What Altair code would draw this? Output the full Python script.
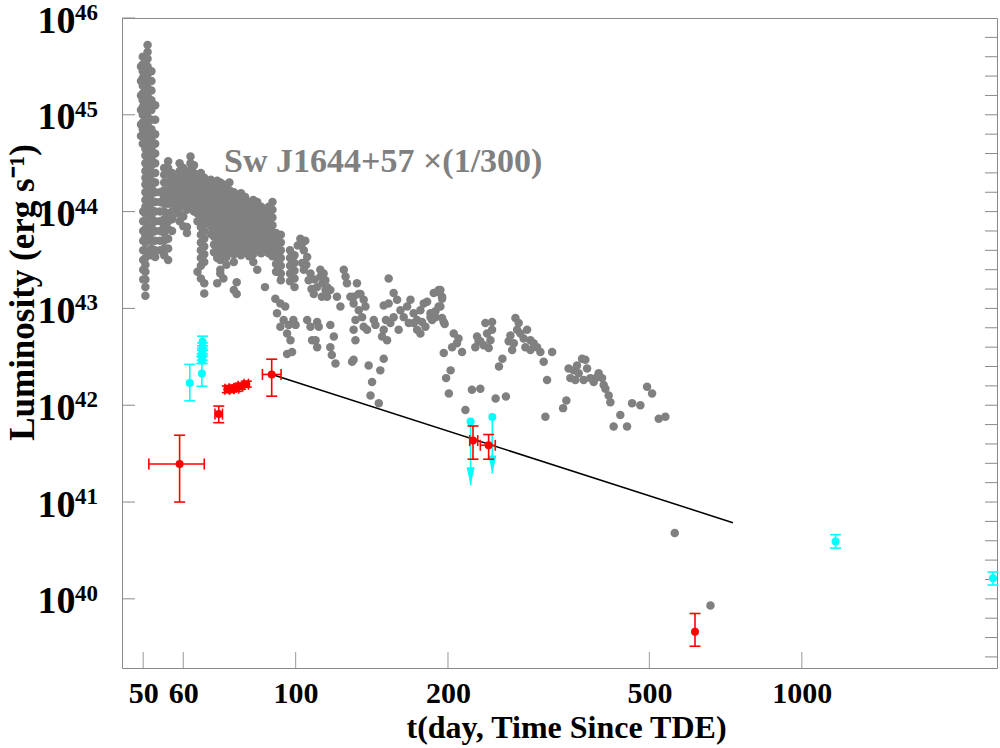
import altair as alt
import pandas as pd

# ---------------------------------------------------------------------------
# Sw J1644+57 X-ray light curve, already scaled by 1/300.
# Each entry: (day since TDE, [log10 L of the observations on that day])
# ---------------------------------------------------------------------------
onset_columns = [
    (49.5, [45.50, 45.35, 45.20, 45.05, 44.90, 44.78]),
    (49.9, [45.60, 45.52, 45.45, 45.38, 45.30, 45.22, 45.15, 45.08, 45.00, 44.92, 44.85, 44.78, 44.70]),
    (50.0, [44.00, 43.90, 43.80, 43.70, 43.60, 43.50, 43.40, 43.30]),
    (50.5, [45.55, 45.48, 45.40, 45.33, 45.25, 45.18, 45.10, 45.03, 44.96, 44.88, 44.80, 44.72,
            44.65, 44.58, 44.50, 44.42, 44.35, 44.28, 44.20, 44.12, 44.05, 43.98, 43.90, 43.82,
            43.75, 43.68, 43.60, 43.52, 43.45, 43.38, 43.30, 43.22, 43.13]),
    (51.0, [45.72, 45.65, 45.58, 45.50, 45.42, 45.35, 45.28, 45.20, 45.12, 45.05, 44.98, 44.90,
            44.82, 44.75, 44.68, 44.60, 44.52, 44.45, 44.38, 44.30, 44.22, 44.15]),
    (51.9, [45.45, 45.35, 45.25, 45.15, 45.05, 44.95, 44.85, 44.75, 44.65, 44.55, 44.48, 44.40,
            44.32, 44.25, 44.18, 44.10, 44.02, 43.94, 43.86, 43.78, 43.70, 43.62, 43.55]),
    (52.8, [45.10, 44.95, 44.80, 44.70, 44.60, 44.50, 44.40, 44.30, 44.20, 44.10, 44.00, 43.90,
            43.80, 43.70, 43.60, 43.53]),
]

plateau_columns = [
    (54.0, [44.20, 44.10, 44.00, 43.90, 43.80, 43.70, 43.60]),
    (55.0, [44.45, 44.38, 44.30, 44.22, 44.15, 44.08, 44.00, 43.92, 43.85, 43.78, 43.70, 43.62, 43.55]),
    (56.0, [44.52, 44.45, 44.38, 44.30, 44.22, 44.15, 44.08, 43.98, 43.90, 43.82, 43.72, 43.62, 43.50]),
    (57.0, [44.40, 44.32, 44.24, 44.16, 44.08, 44.00, 43.92, 43.80]),
    (58.0, [44.35, 44.28, 44.20, 44.12, 44.05, 43.98]),
    (59.0, [44.50, 44.42, 44.35, 44.28, 44.20, 44.12, 44.05, 43.98, 43.90]),
    (60.0, [44.45, 44.38, 44.30, 44.22, 44.15, 44.07, 43.95, 43.85]),
    (61.0, [44.40, 44.32, 44.25, 44.18, 44.10, 44.02, 43.84, 43.78]),
    (62.0, [44.57, 44.50, 44.43, 44.36, 44.28, 44.20, 44.12, 44.05]),
    (63.0, [44.48, 44.40, 44.32, 44.24, 44.16, 44.08, 44.00]),
    (64.0, [44.38, 44.30, 44.22, 44.14, 44.06, 43.98, 43.90, 43.38]),
    (65.0, [44.40, 44.32, 44.24, 44.16, 44.08, 44.00, 43.92, 43.84, 43.76, 43.68, 43.60, 43.52, 43.44, 43.31]),
    (66.0, [44.35, 44.27, 44.20, 44.12, 44.04, 43.96, 43.88, 43.80, 43.72, 43.64, 43.56, 43.48, 43.26, 43.155]),
    (67.0, [44.30, 44.22, 44.15, 44.07, 43.99, 43.90]),
    (68.0, [44.33, 44.25, 44.17, 44.09, 44.01, 43.93, 43.85, 43.77]),
    (69.0, [44.30, 44.22, 44.14, 44.06, 43.98, 43.90, 43.82, 43.74, 43.66, 43.58]),
    (70.0, [44.32, 44.24, 44.16, 44.08, 44.00, 43.92, 43.84, 43.76, 43.68, 43.60, 43.52, 43.26]),
    (71.0, [44.30, 44.22, 44.14, 44.06, 43.98, 43.90, 43.82, 43.74, 43.66, 43.58, 43.50, 43.40, 43.36]),
    (72.0, [44.28, 44.20, 44.12, 44.04, 43.96, 43.88, 43.80, 43.72, 43.64, 43.56, 43.31]),
    (73.0, [44.25, 44.17, 44.09, 44.01, 43.93, 43.85, 43.77, 43.69, 43.61, 43.53, 43.45]),
    (74.0, [44.30, 44.22, 44.14, 44.06, 43.98, 43.90, 43.82, 43.74, 43.66, 43.58]),
    (75.5, [44.20, 44.12, 44.04, 43.96, 43.88, 43.80, 43.72, 43.64, 43.56, 43.48, 43.19]),
    (76.5, [44.15, 44.07, 43.99, 43.91, 43.83, 43.75, 43.67, 43.59, 43.27, 43.15]),
    (78.0, [44.19, 44.11, 44.03, 43.95, 43.87, 43.79, 43.71, 43.63, 43.55]),
    (79.5, [44.15, 44.07, 43.99, 43.91, 43.83, 43.75, 43.67, 43.59]),
    (81.0, [44.10, 44.02, 43.94, 43.86, 43.78, 43.70, 43.62, 43.54]),
    (82.5, [44.12, 44.04, 43.96, 43.88, 43.80, 43.72, 43.64, 43.56, 43.48]),
    (84.0, [44.10, 44.02, 43.94, 43.86, 43.78, 43.70, 43.62, 43.40]),
    (85.5, [44.05, 43.97, 43.89, 43.81, 43.73, 43.65, 43.57]),
    (87.0, [44.00, 43.92, 43.84, 43.76, 43.68, 43.60, 43.22]),
    (88.5, [44.05, 43.97, 43.89, 43.81, 43.73, 43.65, 43.57]),
    (90.0, [44.10, 44.02, 43.94, 43.86, 43.78, 43.70, 43.62, 43.54]),
]

# (day, log10 L) pairs for the decaying part of the light curve
decline_points = [
    (91.5, 43.78), (91.5, 43.70), (91.5, 43.62), (91.5, 43.54), (91.5, 43.46), (91.5, 43.38),
    (93.5, 43.76), (93.5, 43.68), (93.5, 43.60), (93.5, 43.52), (93.5, 43.44), (93.5, 43.36), (93.5, 43.29),
    (97.5, 43.60), (97.5, 43.52), (97.5, 43.44), (97.5, 43.36), (97.5, 43.28),
    (99.5, 43.55), (99.5, 43.47), (99.5, 43.39), (99.5, 43.31), (99.5, 43.22),
    (91.2, 43.10), (93.3, 43.05), (95.4, 43.02), (91.9, 42.95), (94.7, 42.88), (96.9, 42.83),
    (93.3, 42.81), (96.2, 42.74), (97.7, 42.67), (98.4, 42.55), (96.2, 42.53), (99.0, 42.88), (100.0, 42.83),
    (101.0, 43.65), (102.2, 43.72), (103.0, 43.67), (103.8, 43.60), (104.5, 43.70), (105.4, 43.53),
    (103.0, 43.47), (105.0, 43.45), (103.8, 43.40), (107.0, 43.36), (106.1, 43.29), (107.5, 43.20),
    (109.0, 43.30), (110.3, 43.22), (108.6, 43.15), (111.9, 43.40), (112.0, 43.33), (113.6, 43.36),
    (113.0, 43.26), (114.5, 43.29), (114.6, 43.19), (115.4, 43.22), (115.4, 43.12), (112.7, 43.12),
    (117.1, 43.19),
    (105.4, 42.88), (107.0, 42.81), (107.8, 42.67), (109.5, 42.67), (110.3, 42.86), (110.3, 42.60),
    (111.1, 42.81), (117.1, 42.83), (117.1, 42.60), (117.9, 42.52), (119.0, 42.71), (119.9, 42.43),
    (129.3, 42.45),
    (120.7, 43.12), (122.6, 43.02), (124.5, 43.40), (125.5, 43.33), (126.3, 43.26), (128.3, 43.12),
    (130.2, 43.05), (133.2, 43.15), (132.2, 43.26),
    (130.2, 43.12), (134.3, 43.15), (136.3, 43.09), (137.4, 43.02), (133.3, 42.98), (135.3, 42.91),
    (131.3, 42.88), (136.3, 42.81), (138.4, 42.78), (130.2, 42.78), (131.3, 42.67), (142.7, 42.88),
    (143.8, 42.83),
    (130.2, 42.47), (139.4, 42.41), (141.6, 42.24), (140.6, 42.10), (146.0, 42.02), (149.3, 42.48),
    (147.0, 42.36),
    (152.7, 43.31),
    (149.3, 43.03), (152.7, 43.05), (156.2, 43.16), (158.7, 43.09), (161.1, 42.98), (163.5, 42.91),
    (166.1, 43.02), (168.6, 43.09), (171.1, 42.95), (173.8, 42.88), (176.4, 42.98), (179.1, 43.05),
    (181.9, 43.07), (184.7, 42.95), (187.4, 43.16), (190.4, 43.17), (193.2, 43.19), (194.7, 43.10),
    (191.7, 43.02), (188.9, 42.91), (180.5, 42.81), (176.4, 42.74), (173.8, 42.78), (150.8, 42.88),
    (149.3, 42.78), (148.2, 42.71), (151.6, 42.67), (153.9, 42.85), (156.2, 42.91), (159.8, 42.78),
    (167.3, 42.85), (171.1, 42.85), (177.7, 42.86), (186.1, 42.88),
    (191.7, 43.19), (194.7, 43.12), (193.2, 43.02), (188.9, 42.97), (184.7, 42.91), (194.7, 42.90),
    (196.2, 42.86), (197.0, 42.84), (196.2, 42.54), (198.3, 42.28),
]

late_points = [
    (200.8, 42.12), (202.4, 42.36), (216.5, 41.95), (205.3, 42.74), (209.8, 42.69), (208.3, 42.64),
    (213.2, 42.55), (203.8, 42.60), (223.0, 42.16), (231.7, 42.17), (248.4, 42.07), (260.3, 42.09),
    (252.2, 42.40), (256.2, 42.48), (229.9, 42.66),
    (237.1, 42.85), (244.4, 42.86), (238.9, 42.74), (231.7, 42.66), (226.5, 42.60), (235.3, 42.62),
    (242.6, 42.67), (240.7, 42.59), (228.3, 42.71), (244.4, 42.78),
    (271.8, 42.90), (275.9, 42.85), (265.7, 42.72), (269.8, 42.64), (278.0, 42.74), (286.6, 42.78),
    (291.0, 42.67), (299.9, 42.60), (304.5, 42.55), (284.4, 42.60), (267.8, 42.57), (291.0, 42.57),
    (282.2, 42.69), (295.3, 42.64), (273.9, 42.78), (263.6, 42.66),
    (311.5, 41.88), (313.9, 42.26), (309.1, 42.45), (321.2, 42.55), (337.6, 41.97), (342.7, 42.05),
    (373.6, 42.47), (368.0, 42.48), (359.7, 42.41), (354.2, 42.36), (348.9, 42.28), (362.4, 42.33),
    (376.5, 42.38), (382.2, 42.28), (394.0, 42.29), (403.1, 42.28), (406.1, 42.21), (388.0, 42.24),
    (370.7, 42.26), (356.9, 42.26), (346.2, 42.38), (396.9, 42.33),
    (409.3, 42.17), (415.4, 42.10), (418.6, 42.03), (438.0, 41.90), (424.9, 41.78), (451.6, 41.78),
    (462.1, 42.02), (479.8, 42.00), (494.7, 42.19), (506.1, 42.12), (521.6, 41.86), (537.6, 41.88),
    (561.0, 40.68), (660.0, 39.93),
]

# ---------------------------------------------------------------------------
# Red source: detections with errors in time and luminosity
# ---------------------------------------------------------------------------
red_days = [59.0, 70.5, 73.3, 74.7, 76.4, 77.8, 79.9, 89.7, 224.1, 240.6, 615.2]
red_days_lo = [51.3, 69.3, 72.5, 73.9, 75.6, 77.0, 79.1, 86.0, 220.8, 231.7, 615.2]
red_days_hi = [66.0, 71.7, 74.1, 75.5, 77.2, 78.6, 80.7, 93.6, 229.0, 248.0, 615.2]
red_lum = [2.47e41, 8.1e41, 1.46e42, 1.48e42, 1.50e42, 1.57e42, 1.65e42, 2.08e42, 4.31e41, 3.86e41, 4.57e39]
red_lum_lo = [1.0e41, 6.6e41, 1.35e42, 1.37e42, 1.39e42, 1.46e42, 1.54e42, 1.24e42, 2.77e41, 2.77e41, 3.24e39]
red_lum_hi = [4.9e41, 9.8e41, 1.58e42, 1.60e42, 1.62e42, 1.69e42, 1.77e42, 2.99e42, 6.1e41, 4.98e41, 7.06e39]

# Cyan source: detections with luminosity errors
cyan_days = [61.8, 65.3, 65.3, 65.4, 65.4, 65.5, 65.5, 1166.0, 2386.0]
cyan_lum = [1.70e42, 2.13e42, 2.92e42, 3.16e42, 3.56e42, 4.01e42, 4.52e42, 3.92e40, 1.63e40]
cyan_lum_lo = [1.11e42, 1.57e42, 2.70e42, 2.92e42, 3.28e42, 3.70e42, 4.10e42, 3.34e40, 1.39e40]
cyan_lum_hi = [2.64e42, 2.70e42, 3.16e42, 3.42e42, 3.86e42, 4.40e42, 5.17e42, 4.60e40, 1.89e40]

# Cyan upper limits (value and arrow tip)
limit_days = [221.7, 244.7]
limit_lum = [6.78e41, 7.57e41]
limit_tip = [1.49e41, 1.97e41]

# t^-5/3 decay guide
decay_days = [90.5, 731.0]
decay_lum = [2.05e42, 6.12e40]

x_tick_values = [50, 60, 100, 200, 500, 1000]
y_tick_values = [1e40, 1e41, 1e42, 1e43, 1e44, 1e45, 1e46]
y_tick_exponents = ["40", "41", "42", "43", "44", "45", "46"]
right_tick_exponents = [39.4 + 0.2 * k for k in range(33)]

label_text = "Sw J1644+57 ×(1/300)"
label_day, label_lum = 149.0, 3.26e44

# ---------------------------------------------------------------------------
W, H = 875, 650
FONT = "Liberation Serif"
GRAY = "#808080"
RED = "#ff0000"
CYAN = "#00ffff"
FRAME = "#8a8a8a"

x_scale = alt.Scale(type="log", domain=[45.4, 2430], nice=False)
y_scale = alt.Scale(type="log", domain=[1.93e39, 1e46], nice=False)

x_axis = alt.Axis(
    values=x_tick_values, format="d", ticks=False, domain=False, grid=False,
    labelOverlap=False, labelFlush=False, labelFontSize=30, labelPadding=10,
    title="t(day, Time Since TDE)", titleFontSize=32, titleX=444, titleY=59,
    titleBaseline="middle", titleAlign="center",
)
y_axis = alt.Axis(
    values=y_tick_values, labelExpr="'10'", ticks=False, domain=False, grid=False,
    labelOverlap=False, labelFlush=False, labelFontSize=38, labelPadding=47, labelBaseline="middle",
    labelOffset=3,
    title="Luminosity (erg s⁻¹)", titleFontSize=35, titleX=-100, titleY=274,
    titleAngle=-90, titleBaseline="middle", titleAlign="center",
)


def X(field):
    return alt.X(field, type="quantitative", scale=x_scale, axis=x_axis)


def Y(field):
    return alt.Y(field, type="quantitative", scale=y_scale, axis=y_axis)


sw_rows = [(d, 10 ** v) for d, vals in onset_columns + plateau_columns for v in vals]
sw_rows += [(d, 10 ** v) for d, v in decline_points + late_points]
sw_df = pd.DataFrame(sw_rows, columns=["t", "L"])

red_df = pd.DataFrame({"t": red_days, "t_lo": red_days_lo, "t_hi": red_days_hi,
                       "L": red_lum, "L_lo": red_lum_lo, "L_hi": red_lum_hi})
red_xerr = red_df[red_df["t_hi"] > red_df["t_lo"]]
cyan_df = pd.DataFrame({"t": cyan_days, "L": cyan_lum, "L_lo": cyan_lum_lo, "L_hi": cyan_lum_hi})
limit_df = pd.DataFrame({"t": limit_days, "L": limit_lum, "tip": limit_tip})
decay_df = pd.DataFrame({"t": decay_days, "L": decay_lum})


def caps_y(df):
    return pd.DataFrame({"t": list(df["t"]) * 2, "L": list(df["L_lo"]) + list(df["L_hi"])})


def caps_x(df):
    return pd.DataFrame({"t": list(df["t_lo"]) + list(df["t_hi"]), "L": list(df["L"]) * 2})


# frame ticks, pointing into the plot
left_ticks = alt.Chart(pd.DataFrame({"L": y_tick_values})).mark_rule(color=FRAME, strokeWidth=1).encode(
    y=Y("L"), x=alt.value(0), x2=alt.value(13))
right_ticks = alt.Chart(pd.DataFrame({"L": [10 ** e for e in right_tick_exponents]})).mark_rule(
    color=FRAME, strokeWidth=1).encode(y=Y("L"), x=alt.value(W), x2=alt.value(W - 12))
bottom_ticks = alt.Chart(pd.DataFrame({"t": x_tick_values})).mark_rule(color="#aaaaaa", strokeWidth=1.2).encode(
    x=X("t"), y=alt.value(H), y2=alt.value(H - 16))

# superscript exponents of the decade labels on the luminosity axis
exponent_labels = alt.Chart(pd.DataFrame({"L": y_tick_values, "e": y_tick_exponents})).mark_text(
    font=FONT, fontWeight="bold", fontSize=23, color="black", align="left", baseline="middle", dy=-5).encode(
    y=Y("L"), x=alt.value(-47), text="e:N")

sw_points = alt.Chart(sw_df).mark_circle(size=72, color=GRAY, opacity=1).encode(x=X("t"), y=Y("L"))

sw_label = alt.Chart(pd.DataFrame({"t": [label_day], "L": [label_lum], "s": [label_text]})).mark_text(
    font=FONT, fontWeight="bold", fontSize=34, color=GRAY, align="center", baseline="middle").encode(
    x=X("t"), y=Y("L"), text="s:N")

decay_line = alt.Chart(decay_df).mark_line(color="black", strokeWidth=1.5).encode(x=X("t"), y=Y("L"))

BAR_W = 1.6
cyan_vbar = alt.Chart(cyan_df).mark_rule(color=CYAN, strokeWidth=BAR_W).encode(
    x=X("t"), y=Y("L_lo"), y2="L_hi:Q")
cyan_caps = alt.Chart(caps_y(cyan_df)).mark_tick(orient="horizontal", size=11, thickness=BAR_W, color=CYAN,
                                                opacity=1).encode(x=X("t"), y=Y("L"))
cyan_pts = alt.Chart(cyan_df).mark_circle(size=64, color=CYAN, opacity=1).encode(x=X("t"), y=Y("L"))

limit_stem = alt.Chart(limit_df).mark_rule(color=CYAN, strokeWidth=BAR_W).encode(
    x=X("t"), y=Y("L"), y2="tip:Q")
limit_head = alt.Chart(limit_df).mark_point(
    shape="M-0.45,-2L0.45,-2L0,0Z", size=324, filled=True, color=CYAN, opacity=1).encode(
    x=X("t"), y=Y("tip"))
limit_pts = alt.Chart(limit_df).mark_circle(size=64, color=CYAN, opacity=1).encode(x=X("t"), y=Y("L"))

red_vbar = alt.Chart(red_df).mark_rule(color=RED, strokeWidth=BAR_W).encode(
    x=X("t"), y=Y("L_lo"), y2="L_hi:Q")
red_hbar = alt.Chart(red_xerr).mark_rule(color=RED, strokeWidth=BAR_W).encode(
    y=Y("L"), x=X("t_lo"), x2="t_hi:Q")
red_ycaps = alt.Chart(caps_y(red_df)).mark_tick(orient="horizontal", size=11, thickness=BAR_W, color=RED,
                                               opacity=1).encode(x=X("t"), y=Y("L"))
red_xcaps = alt.Chart(caps_x(red_xerr)).mark_tick(orient="vertical", size=11, thickness=BAR_W, color=RED,
                                                 opacity=1).encode(x=X("t"), y=Y("L"))
red_pts = alt.Chart(red_df).mark_circle(size=64, color=RED, opacity=1).encode(x=X("t"), y=Y("L"))

chart = alt.layer(
    sw_points, left_ticks, right_ticks, bottom_ticks, exponent_labels, sw_label, decay_line,
    cyan_vbar, cyan_caps, cyan_pts, limit_stem, limit_head, limit_pts,
    red_vbar, red_hbar, red_ycaps, red_xcaps, red_pts,
).properties(
    width=W, height=H,
    padding={"left": 122, "top": 18, "right": 3, "bottom": 80},
    autosize=alt.AutoSizeParams(type="none"),
    background="white",
).configure_view(
    stroke=FRAME, strokeWidth=1,
).configure_axis(
    labelFont=FONT, titleFont=FONT, labelFontWeight="bold", titleFontWeight="bold",
    labelColor="black", titleColor="black",
)

chart.save("out.html", embed_options={"renderer": "svg", "actions": False})
